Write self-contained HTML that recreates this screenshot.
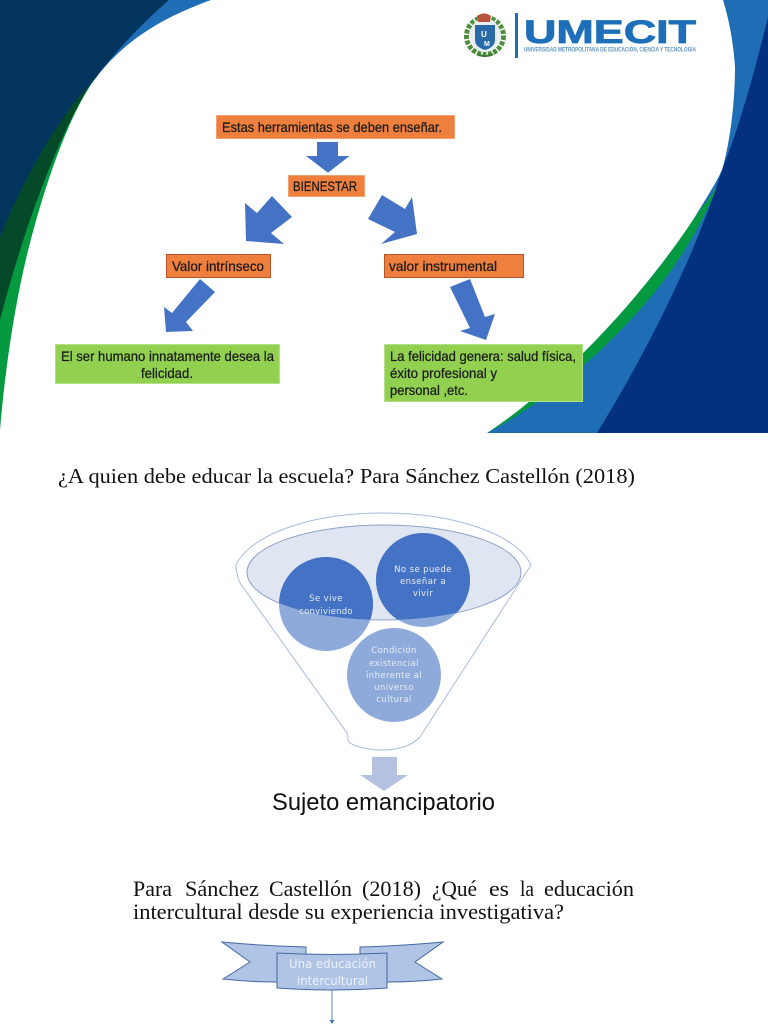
<!DOCTYPE html>
<html><head><meta charset="utf-8"><style>
html,body{margin:0;padding:0;background:#fff}
svg{display:block}
</style></head><body>
<svg width="768" height="1024" viewBox="0 0 768 1024" xmlns="http://www.w3.org/2000/svg">
<defs><clipPath id="e"><ellipse cx="384" cy="572.5" rx="137" ry="47.5"/></clipPath></defs>
<rect width="768" height="1024" fill="#fff"/>
<!-- left bands -->
<path d="M0 0H211C170 15 130 35 98 75L90 85H0Z" fill="#1f6db5"/>
<path d="M98 75C70 110 45 185 30 243C15 300 5 370 0 430V85Z" fill="#059a3f"/>
<path d="M98 75L90 85C65 125 30 205 0 320V85Z" fill="#044a28"/>
<path d="M169 0C140 25 115 52 90 85C60 115 25 175 0 237V0Z" fill="#04355f"/>
<!-- right bands -->
<path d="M723 0H768V433H487C560 385 640 300 693 220C705 200 715 185 722 170C728 150 735 110 735 67C733 40 729 20 723 0Z" fill="#1f6db5"/>
<path d="M768 17C755 70 740 125 722 170C700 240 660 330 597 433H768Z" fill="#04317f"/>
<path d="M487 433C560 385 640 300 693 220C703 205 711 196 717 187C710 205 695 235 680 257C640 320 560 395 487 433Z" fill="#059a3f"/>
<rect x="0" y="433" width="768" height="591" fill="#fff"/>
<!-- logo -->
<circle cx="485" cy="36" r="18.500" fill="none" stroke="#4d8f3d" stroke-width="5" stroke-dasharray="4 1.500"/>
<ellipse cx="485" cy="35" rx="15" ry="17" fill="#e8eef2"/>
<path d="M475 25H495V40Q495 47 485 50Q475 47 475 40Z" fill="#2a6aa8"/>
<path d="M478 22L477 16Q484 11 491 16L490 22Z" fill="#b9533c"/>
<text x="481" y="37" font-family="Liberation Sans" font-size="8" font-weight="bold" fill="#fff">U</text>
<text x="484" y="46" font-family="Liberation Sans" font-size="7" font-weight="bold" fill="#fff">M</text>
<path d="M477 54Q485 58 493 54" fill="none" stroke="#3d7a2f" stroke-width="2"/>
<rect x="515" y="13" width="3" height="45" fill="#1f6db5"/>
<text x="524" y="43" font-family="Liberation Sans" font-size="32" font-weight="bold" fill="#1c6fb8" stroke="#1c6fb8" stroke-width=".8" textLength="172" lengthAdjust="spacingAndGlyphs">UMECIT</text>
<text x="524" y="51.500" font-family="Liberation Sans" font-size="6.500" font-weight="bold" fill="#5d93c2" textLength="172" lengthAdjust="spacingAndGlyphs">UNIVERSIDAD METROPOLITANA DE EDUCACIÓN, CIENCIA Y TECNOLOGÍA</text>
<!-- boxes -->
<g stroke-width="1">
<rect x="216.500" y="115.500" width="238" height="23" fill="#ef7f3c" stroke="#f2a070"/>
<rect x="288.500" y="175.500" width="76" height="21" fill="#ef7f3c" stroke="#f2a070"/>
<rect x="166.500" y="254.500" width="104" height="23" fill="#ef7f3c" stroke="#b5562a"/>
<rect x="384.500" y="254.500" width="139" height="23" fill="#ef7f3c" stroke="#b5562a"/>
<rect x="55.500" y="344.500" width="224" height="39" fill="#92d050" stroke="#b5e08a"/>
<rect x="384.500" y="344.500" width="198" height="57" fill="#92d050" stroke="#b5e08a"/>
</g>
<g font-family="Liberation Sans" font-size="14" fill="#1a1a1a" stroke="#1a1a1a" stroke-width=".25">
<text x="222" y="132" textLength="220" lengthAdjust="spacingAndGlyphs">Estas herramientas se deben enseñar.</text>
<text x="293" y="191" textLength="64" lengthAdjust="spacingAndGlyphs">BIENESTAR</text>
<text x="172" y="271" textLength="92" lengthAdjust="spacingAndGlyphs">Valor intrínseco</text>
<text x="389" y="271" textLength="108" lengthAdjust="spacingAndGlyphs">valor instrumental</text>
<text x="61" y="361" textLength="213" lengthAdjust="spacingAndGlyphs">El ser humano innatamente desea la</text>
<text x="141" y="378" textLength="52" lengthAdjust="spacingAndGlyphs">felicidad.</text>
<text x="390" y="361" textLength="186" lengthAdjust="spacingAndGlyphs">La felicidad genera:  salud física,</text>
<text x="390" y="378" textLength="107" lengthAdjust="spacingAndGlyphs">éxito profesional y</text>
<text x="390" y="395" textLength="78" lengthAdjust="spacingAndGlyphs">personal ,etc.</text>
</g>
<!-- arrows -->
<g fill="#4472c4">
<polygon points="317,142 338,142 338,156 349.500,156 328,172.700 306,156 317,156"/>
<polygon points="272,196 292,217 271,233 284,244 246,241 245,203 257,213"/>
<polygon points="382,195 405,209 412,197 417,234 381,244 395,232 368,219"/>
<polygon points="200,279 215,292 186,322 193,331 166,332 164,307 172,313"/>
<polygon points="450,287 470,279 485,317 495,314 486,340 460,331 470,328"/>
</g>
<!-- heading 1 -->
<text x="58" y="483" font-family="Liberation Serif" font-size="21.500" fill="#111" textLength="577" lengthAdjust="spacingAndGlyphs">¿A quien debe educar la escuela? Para Sánchez Castellón (2018)</text>
<!-- funnel -->
<path d="M236 565C250 535 310 513 383 513C450 513 515 532 531 565L420 737C412 746 397 750 383 750C365 750 349 745 348 740Q348 736 347 733L240 583Q236 574 236 565Z" fill="#fff" stroke="#a9bbdc" stroke-width="1"/>
<ellipse cx="384" cy="572.500" rx="137" ry="47.500" fill="#dfe5f1" stroke="#8ea3c9" stroke-width="1"/>
<circle cx="394" cy="675" r="47" fill="#8eaadb"/>
<circle cx="326" cy="604" r="47" fill="#8eaadb"/>
<circle cx="423" cy="580" r="47" fill="#8eaadb"/>
<g clip-path="url(#e)" fill="#4472c4">
<circle cx="326" cy="604" r="47"/>
<circle cx="423" cy="580" r="47"/>
</g>
<g font-family="DejaVu Sans" font-size="8.500" fill="#e8edf7" text-anchor="middle">
<text x="423" y="572" letter-spacing=".4">No se puede</text>
<text x="423" y="584" letter-spacing=".4">enseñar a</text>
<text x="423" y="596" letter-spacing=".4">vivir</text>
<text x="326" y="601" letter-spacing=".4">Se vive</text>
<text x="326" y="614" letter-spacing=".2">conviviendo</text>
<text x="394" y="653" letter-spacing=".4">Condición</text>
<text x="394" y="666" letter-spacing=".4">existencial</text>
<text x="394" y="678" letter-spacing=".4">inherente al</text>
<text x="394" y="690" letter-spacing=".4">universo</text>
<text x="394" y="702" letter-spacing=".4">cultural</text>
</g>
<polygon points="372,757 397,757 397,775 408,775 384,791 360,775 372,775" fill="#b4c1e0"/>
<text x="272" y="810" font-family="Liberation Sans" font-size="24" fill="#111" textLength="223" lengthAdjust="spacingAndGlyphs">Sujeto emancipatorio</text>
<!-- heading 2 -->
<g font-family="Liberation Serif" font-size="22" fill="#111">
<text x="133" y="896" textLength="39" lengthAdjust="spacingAndGlyphs">Para</text>
<text x="185" y="896" textLength="74" lengthAdjust="spacingAndGlyphs">Sánchez</text>
<text x="269" y="896" textLength="83" lengthAdjust="spacingAndGlyphs">Castellón</text>
<text x="362" y="896" textLength="59" lengthAdjust="spacingAndGlyphs">(2018)</text>
<text x="432" y="896" textLength="45" lengthAdjust="spacingAndGlyphs">¿Qué</text>
<text x="489" y="896" textLength="20" lengthAdjust="spacingAndGlyphs">es</text>
<text x="520" y="896" textLength="14" lengthAdjust="spacingAndGlyphs">la</text>
<text x="544" y="896" textLength="90" lengthAdjust="spacingAndGlyphs">educación</text>
<text x="133" y="919" textLength="431" lengthAdjust="spacingAndGlyphs">intercultural desde su experiencia investigativa?</text>
</g>
<!-- banner -->
<g fill="#b0c4e6" stroke="#44699f" stroke-width="1">
<path d="M222 942Q265 946 306 947V982H277Q250 982 223 979L250 962Z"/>
<path d="M443 942Q400 946 360 947V982H387Q415 982 442 979L415 962Z"/>
<path d="M277 953Q332 956 387 953V988Q332 992 277 988Z"/>
</g>
<g font-family="DejaVu Sans" font-size="12" fill="#eef2fa">
<text x="289" y="968" textLength="87" lengthAdjust="spacingAndGlyphs">Una educación</text>
<text x="297" y="985" textLength="71" lengthAdjust="spacingAndGlyphs">intercultural</text>
</g>
<line x1="332" y1="990" x2="332" y2="1020" stroke="#5b85c4" stroke-width="1"/>
<polygon points="329.500,1020 334.500,1020 332,1024" fill="#4472c4"/>
</svg>
</body></html>
